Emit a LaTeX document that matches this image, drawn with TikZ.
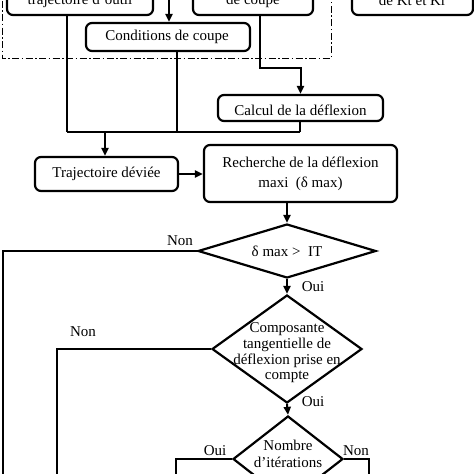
\documentclass[tikz,border=0pt]{standalone}
\usepackage{fontspec}
\setmainfont{Liberation Serif}
\usetikzlibrary{arrows.meta,shapes.geometric}
\tikzset{
  box/.style={draw,line width=2.2pt,rounded corners=6pt,inner sep=0pt},
  dia/.style={draw,line width=2.2pt,diamond,inner sep=0pt},
  txt/.style={inner sep=0pt,align=center,font=\fontsize{15}{17}\selectfont},
  lbl/.style={inner sep=0pt,font=\fontsize{15}{17}\selectfont},
  wire/.style={line width=2pt},
  arr/.style={line width=2pt,-{Triangle[length=8pt,width=7pt]}},
  dashbox/.style={line width=1pt,dash pattern=on 7pt off 2.5pt on 1.5pt off 2.5pt}
}
\begin{document}
\begin{tikzpicture}[x=1pt,y=-1pt]
\useasboundingbox (0,0) rectangle (474,474);
\clip (0,0) rectangle (474,474);
% dash-dot frame
\draw[dashbox] (2,-40) rectangle (331,58);
% top boxes (cropped by the picture edge, as in the reference)
\node[box,minimum width=146pt,minimum height=55pt] (boxA) at (80,-12.5) {};
\node[txt,anchor=base] (tA) at (80,4) {trajectoire d’outil};
\node[box,minimum width=120pt,minimum height=55pt] (boxB) at (253,-12.5) {};
\node[txt,anchor=base] (tB) at (253,4) {de coupe};
\node[box,minimum width=121pt,minimum height=55pt] (boxC) at (412.5,-12.5) {};
\node[txt,anchor=base] (tC) at (412.5,5) {de Kt et Kr};
% other boxes
\node[box,minimum width=164pt,minimum height=28pt] (cond) at (168,37) {};
\node[txt] (tcond) at (167,37) {Conditions de coupe};
\node[box,minimum width=165pt,minimum height=26pt] (calc) at (300.5,108) {};
\node[txt] (tcalc) at (300.5,110) {Calcul de la déflexion};
\node[box,minimum width=143pt,minimum height=34pt] (traj) at (106.5,174) {};
\node[txt] (ttraj) at (106.5,174) {Trajectoire déviée};
\node[box,minimum width=193pt,minimum height=57pt] (rech) at (300.5,173.5) {};
\node[txt,font=\fontsize{15}{20}\selectfont] (trech) at (300.5,174) {Recherche de la déflexion\\maxi\ \ (δ max)};
% diamonds
\node[dia,minimum width=178pt,minimum height=54pt] (d1) at (287,251) {};
\node[txt] (td1) at (287,251) {δ max >\ \ IT};
\node[dia,minimum width=150pt,minimum height=108pt] (d2) at (287,349) {};
\node[txt,font=\fontsize{15}{15.7}\selectfont] (td2) at (287,353) {Composante\\tangentielle de\\déflexion prise en\\compte};
\node[dia,minimum width=110pt,minimum height=86pt] (d3) at (288,459) {};
\node[txt] (td3) at (288,454) {Nombre\\d’itérations};
% coordinates
\coordinate (cin) at (169,-20);
\coordinate (jL) at (67,132);
\coordinate (jC) at (177,132);
\coordinate (jR) at (300,132);
\coordinate (jT) at (105,132);
\coordinate (bB) at (260,68);
\coordinate (L1) at (3,500);
\coordinate (L2) at (57,500);
\coordinate (L3) at (176,500);
\coordinate (L4) at (369,500);
% connectors
\draw[arr] (cin) -- (cin |- cond.north);
\draw[wire] (jL |- boxA.south) -- (jL);
\draw[wire] (jL) -- (jR);
\draw[wire] (jC |- cond.south) -- (jC);
\draw[wire] (jR |- calc.south) -- (jR);
\draw[arr] (jT) -- (jT |- traj.north);
\draw[arr] (bB |- boxB.south) -- (bB) -| (calc.north);
\draw[arr] (traj.east) -- (traj.east -| rech.west);
\draw[arr] (d1.north |- rech.south) -- (d1.north);
\draw[wire] (d1.west) -| (L1);
\draw[arr] (d1.south) -- (d2.north);
\draw[wire] (d2.west) -| (L2);
\draw[arr] (d2.south) -- (d3.north);
\draw[wire] (d3.west) -| (L3);
\draw[wire] (d3.east) -| (L4);
% labels
\node[lbl] (n1) at (180,241) {Non};
\node[lbl] (o1) at (313,287) {Oui};
\node[lbl] (n2) at (83,332) {Non};
\node[lbl] (o2) at (313,402) {Oui};
\node[lbl] (o3) at (215,451) {Oui};
\node[lbl] (n3) at (356,451) {Non};
\end{tikzpicture}
\end{document}
